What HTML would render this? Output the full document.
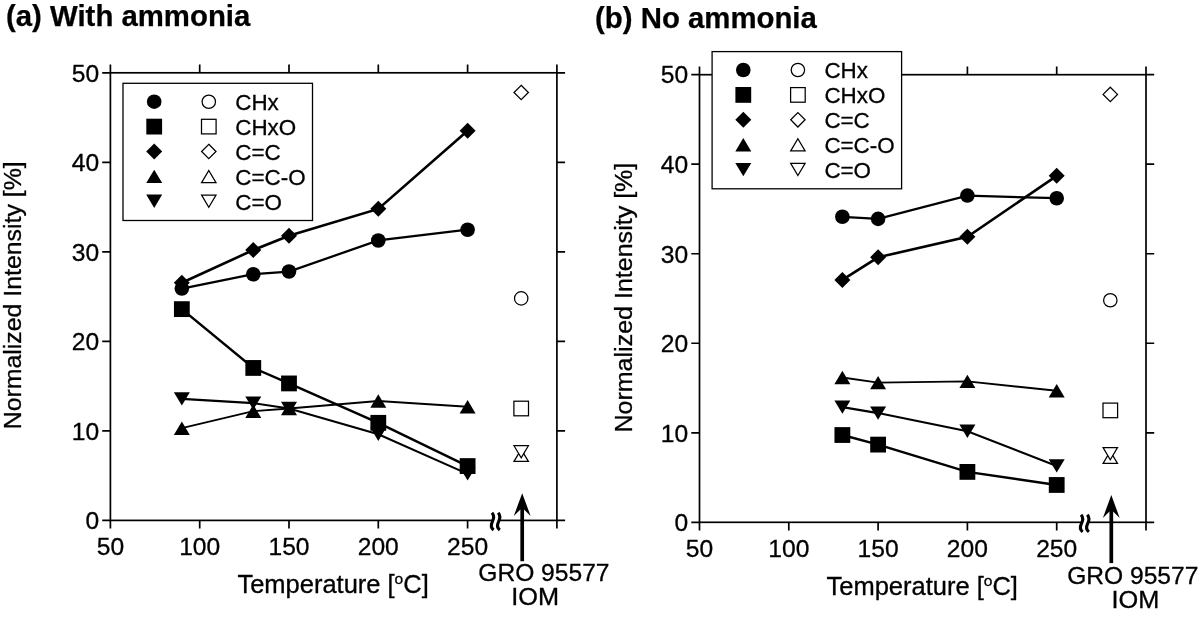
<!DOCTYPE html>
<html lang="en">
<head>
<meta charset="utf-8">
<title>Normalized intensity vs temperature</title>
<style>
html,body{margin:0;padding:0;background:#fff;}
body{width:1200px;height:617px;overflow:hidden;}
svg{display:block;}
.t{font-family:"Liberation Sans",Arial,Helvetica,sans-serif;font-size:24.6px;fill:#000;stroke:#000;stroke-width:0.3px;}
.a{font-size:24.6px;}
.l{font-size:22.8px;}
.h{font-family:"Liberation Sans",Arial,Helvetica,sans-serif;font-weight:bold;font-size:29.35px;fill:#000;stroke:#000;stroke-width:0.25px;}
</style>
</head>
<body>
<svg width="1200" height="617" viewBox="0 0 1200 617">
<rect width="1200" height="617" fill="#fff"/>
<text x="6" y="26.3" class="h">(a) With ammonia</text>
<text x="595.1" y="28.3" class="h">(b) No ammonia</text>
<g id="chart-a">
<rect x="110.40" y="72.80" width="446.50" height="447.60" fill="none" stroke="#000" stroke-width="1.7"/>
<path d="M110.40 72.80v-8.2M110.40 520.40v8.2M199.70 72.80v-8.2M199.70 520.40v8.2M289.00 72.80v-8.2M289.00 520.40v8.2M378.30 72.80v-8.2M378.30 520.40v8.2M467.60 72.80v-8.2M467.60 520.40v8.2M556.90 72.80v-8.2M556.90 520.40v8.2M110.40 520.40h-8.2M556.90 520.40h8.2M110.40 430.88h-8.2M556.90 430.88h8.2M110.40 341.36h-8.2M556.90 341.36h8.2M110.40 251.84h-8.2M556.90 251.84h8.2M110.40 162.32h-8.2M556.90 162.32h8.2M110.40 72.80h-8.2M556.90 72.80h8.2" fill="none" stroke="#000" stroke-width="1.7"/>
<text x="99.1" y="529.20" text-anchor="end" class="t">0</text>
<text x="99.1" y="439.68" text-anchor="end" class="t">10</text>
<text x="99.1" y="350.16" text-anchor="end" class="t">20</text>
<text x="99.1" y="260.64" text-anchor="end" class="t">30</text>
<text x="99.1" y="171.12" text-anchor="end" class="t">40</text>
<text x="99.1" y="81.60" text-anchor="end" class="t">50</text>
<text x="110.40" y="554.8" text-anchor="middle" class="t">50</text>
<text x="199.70" y="554.8" text-anchor="middle" class="t">100</text>
<text x="289.00" y="554.8" text-anchor="middle" class="t">150</text>
<text x="378.30" y="554.8" text-anchor="middle" class="t">200</text>
<text x="467.60" y="554.8" text-anchor="middle" class="t">250</text>
<text transform="translate(21.2 295.3) rotate(-90) scale(1.011 1)" text-anchor="middle" class="t a">Normalized Intensity [%]</text>
<text transform="translate(333.1 592.7) scale(1.026 1)" text-anchor="middle" class="t a" style="font-size:24.85px">Temperature [<tspan dy="-8.4" font-size="15.2">o</tspan><tspan dy="8.4">C]</tspan></text>
<rect x="492.20" y="518.40" width="6.4" height="4" fill="#fff"/>
<path d="M492.00 512.8C494.20 515.5 494.00 518.5 492.40 521.6S490.60 527.6 493.60 530" fill="none" stroke="#000" stroke-width="3.1"/>
<path d="M498.20 512.8C500.40 515.5 500.20 518.5 498.60 521.6S496.80 527.6 499.80 530" fill="none" stroke="#000" stroke-width="3.1"/>
<path d="M522.20 561.2V508" fill="none" stroke="#000" stroke-width="3.7"/>
<path d="M522.20 493.2L530.60 516L524.00 509.6H520.40L513.80 516Z" fill="#000"/>
<text x="543.9" y="581.4" text-anchor="middle" class="t a">GRO 95577</text>
<text transform="translate(535.15 604.5) scale(1.03 1)" text-anchor="middle" class="t a">IOM</text>
<path d="M521.20 85.29L528.40 92.49L521.20 99.69L514.00 92.49Z" fill="#fff" stroke="#000" stroke-width="1.25"/>
<circle cx="521.20" cy="298.39" r="6.70" fill="#fff" stroke="#000" stroke-width="1.25"/>
<rect x="513.90" y="401.20" width="14.60" height="14.60" fill="#fff" stroke="#000" stroke-width="1.25"/>
<path d="M521.20 449.33L528.40 461.43L514.00 461.43Z" fill="#fff" stroke="#000" stroke-width="1.25"/>
<path d="M521.20 457.82L528.40 445.72L514.00 445.72Z" fill="#fff" stroke="#000" stroke-width="1.25"/>
<polyline points="181.84,398.83 253.28,403.13 289.00,408.50 378.30,434.19 467.60,473.85" fill="none" stroke="#000" stroke-width="2.1"/>
<path d="M181.84 405.53L189.84 392.13L173.84 392.13Z" fill="#000"/>
<path d="M253.28 409.83L261.28 396.43L245.28 396.43Z" fill="#000"/>
<path d="M289.00 415.20L297.00 401.80L281.00 401.80Z" fill="#000"/>
<path d="M378.30 440.89L386.30 427.49L370.30 427.49Z" fill="#000"/>
<path d="M467.60 480.55L475.60 467.15L459.60 467.15Z" fill="#000"/>
<polyline points="181.84,428.19 253.28,411.19 289.00,408.50 378.30,400.98 467.60,406.71" fill="none" stroke="#000" stroke-width="1.9"/>
<path d="M181.84 421.49L189.84 434.89L173.84 434.89Z" fill="#000"/>
<path d="M253.28 404.49L261.28 417.89L245.28 417.89Z" fill="#000"/>
<path d="M289.00 401.80L297.00 415.20L281.00 415.20Z" fill="#000"/>
<path d="M378.30 394.28L386.30 407.68L370.30 407.68Z" fill="#000"/>
<path d="M467.60 400.01L475.60 413.41L459.60 413.41Z" fill="#000"/>
<polyline points="181.84,309.13 253.28,367.95 289.00,383.43 378.30,422.82 467.60,466.06" fill="none" stroke="#000" stroke-width="2.5"/>
<rect x="173.94" y="301.23" width="15.80" height="15.80" fill="#000"/>
<rect x="245.38" y="360.05" width="15.80" height="15.80" fill="#000"/>
<rect x="281.10" y="375.53" width="15.80" height="15.80" fill="#000"/>
<rect x="370.40" y="414.92" width="15.80" height="15.80" fill="#000"/>
<rect x="459.70" y="458.16" width="15.80" height="15.80" fill="#000"/>
<polyline points="181.84,288.54 253.28,274.22 289.00,271.53 378.30,240.47 467.60,229.73" fill="none" stroke="#000" stroke-width="2.25"/>
<circle cx="181.84" cy="288.54" r="7.30" fill="#000"/>
<circle cx="253.28" cy="274.22" r="7.30" fill="#000"/>
<circle cx="289.00" cy="271.53" r="7.30" fill="#000"/>
<circle cx="378.30" cy="240.47" r="7.30" fill="#000"/>
<circle cx="467.60" cy="229.73" r="7.30" fill="#000"/>
<polyline points="181.84,282.72 253.28,250.05 289.00,235.73 378.30,208.87 467.60,130.72" fill="none" stroke="#000" stroke-width="2.6"/>
<path d="M181.84 274.72L189.84 282.72L181.84 290.72L173.84 282.72Z" fill="#000"/>
<path d="M253.28 242.05L261.28 250.05L253.28 258.05L245.28 250.05Z" fill="#000"/>
<path d="M289.00 227.73L297.00 235.73L289.00 243.73L281.00 235.73Z" fill="#000"/>
<path d="M378.30 200.87L386.30 208.87L378.30 216.87L370.30 208.87Z" fill="#000"/>
<path d="M467.60 122.72L475.60 130.72L467.60 138.72L459.60 130.72Z" fill="#000"/>
<rect x="123.00" y="83.30" width="189.5" height="137.2" fill="#fff" stroke="#000" stroke-width="1.3"/>
<circle cx="154.20" cy="101.70" r="7.30" fill="#000"/>
<circle cx="208.80" cy="101.70" r="6.70" fill="#fff" stroke="#000" stroke-width="1.25"/>
<text transform="translate(235.30 110.10) scale(0.982 1)" class="t l">CHx</text>
<rect x="146.30" y="118.70" width="15.80" height="15.80" fill="#000"/>
<rect x="201.50" y="119.30" width="14.60" height="14.60" fill="#fff" stroke="#000" stroke-width="1.25"/>
<text transform="translate(235.30 135.00) scale(0.982 1)" class="t l">CHxO</text>
<path d="M154.20 143.50L162.20 151.50L154.20 159.50L146.20 151.50Z" fill="#000"/>
<path d="M208.80 144.30L216.00 151.50L208.80 158.70L201.60 151.50Z" fill="#fff" stroke="#000" stroke-width="1.25"/>
<text transform="translate(235.30 159.90) scale(0.982 1)" class="t l">C=C</text>
<path d="M154.20 169.70L162.20 183.10L146.20 183.10Z" fill="#000"/>
<path d="M208.80 170.50L216.00 182.60L201.60 182.60Z" fill="#fff" stroke="#000" stroke-width="1.25"/>
<text transform="translate(235.30 184.80) scale(0.982 1)" class="t l">C=C-O</text>
<path d="M154.20 208.00L162.20 194.60L146.20 194.60Z" fill="#000"/>
<path d="M208.80 207.20L216.00 195.10L201.60 195.10Z" fill="#fff" stroke="#000" stroke-width="1.25"/>
<text transform="translate(235.30 209.70) scale(0.982 1)" class="t l">C=O</text>
</g>
<g id="chart-b" transform="translate(589.1 1.9)">
<rect x="110.40" y="72.80" width="446.50" height="447.60" fill="none" stroke="#000" stroke-width="1.7"/>
<path d="M110.40 72.80v-8.2M110.40 520.40v8.2M199.70 72.80v-8.2M199.70 520.40v8.2M289.00 72.80v-8.2M289.00 520.40v8.2M378.30 72.80v-8.2M378.30 520.40v8.2M467.60 72.80v-8.2M467.60 520.40v8.2M556.90 72.80v-8.2M556.90 520.40v8.2M110.40 520.40h-8.2M556.90 520.40h8.2M110.40 430.88h-8.2M556.90 430.88h8.2M110.40 341.36h-8.2M556.90 341.36h8.2M110.40 251.84h-8.2M556.90 251.84h8.2M110.40 162.32h-8.2M556.90 162.32h8.2M110.40 72.80h-8.2M556.90 72.80h8.2" fill="none" stroke="#000" stroke-width="1.7"/>
<text x="99.1" y="529.20" text-anchor="end" class="t">0</text>
<text x="99.1" y="439.68" text-anchor="end" class="t">10</text>
<text x="99.1" y="350.16" text-anchor="end" class="t">20</text>
<text x="99.1" y="260.64" text-anchor="end" class="t">30</text>
<text x="99.1" y="171.12" text-anchor="end" class="t">40</text>
<text x="99.1" y="81.60" text-anchor="end" class="t">50</text>
<text x="110.40" y="554.8" text-anchor="middle" class="t">50</text>
<text x="199.70" y="554.8" text-anchor="middle" class="t">100</text>
<text x="289.00" y="554.8" text-anchor="middle" class="t">150</text>
<text x="378.30" y="554.8" text-anchor="middle" class="t">200</text>
<text x="467.60" y="554.8" text-anchor="middle" class="t">250</text>
<text transform="translate(42.9 295.75) rotate(-90) scale(1.018 1)" text-anchor="middle" class="t a">Normalized Intensity [%]</text>
<text transform="translate(333.1 592.7) scale(1.026 1)" text-anchor="middle" class="t a" style="font-size:24.85px">Temperature [<tspan dy="-8.4" font-size="15.2">o</tspan><tspan dy="8.4">C]</tspan></text>
<rect x="492.20" y="518.40" width="6.4" height="4" fill="#fff"/>
<path d="M492.00 512.8C494.20 515.5 494.00 518.5 492.40 521.6S490.60 527.6 493.60 530" fill="none" stroke="#000" stroke-width="3.1"/>
<path d="M498.20 512.8C500.40 515.5 500.20 518.5 498.60 521.6S496.80 527.6 499.80 530" fill="none" stroke="#000" stroke-width="3.1"/>
<path d="M522.20 561.2V508" fill="none" stroke="#000" stroke-width="3.7"/>
<path d="M522.20 493.2L530.60 516L524.00 509.6H520.40L513.80 516Z" fill="#000"/>
<text x="543.7" y="581.7" text-anchor="middle" class="t a">GRO 95577</text>
<text transform="translate(546.3 606.2) scale(1.03 1)" text-anchor="middle" class="t a">IOM</text>
<path d="M521.20 85.29L528.40 92.49L521.20 99.69L514.00 92.49Z" fill="#fff" stroke="#000" stroke-width="1.25"/>
<circle cx="521.20" cy="298.39" r="6.70" fill="#fff" stroke="#000" stroke-width="1.25"/>
<rect x="513.90" y="401.20" width="14.60" height="14.60" fill="#fff" stroke="#000" stroke-width="1.25"/>
<path d="M521.20 449.33L528.40 461.43L514.00 461.43Z" fill="#fff" stroke="#000" stroke-width="1.25"/>
<path d="M521.20 457.82L528.40 445.72L514.00 445.72Z" fill="#fff" stroke="#000" stroke-width="1.25"/>
<polyline points="253.28,405.19 289.00,411.19 378.30,429.36 467.60,464.00" fill="none" stroke="#000" stroke-width="2.1"/>
<path d="M253.28 411.89L261.28 398.49L245.28 398.49Z" fill="#000"/>
<path d="M289.00 417.89L297.00 404.49L281.00 404.49Z" fill="#000"/>
<path d="M378.30 436.06L386.30 422.66L370.30 422.66Z" fill="#000"/>
<path d="M467.60 470.70L475.60 457.30L459.60 457.30Z" fill="#000"/>
<polyline points="253.28,375.56 289.00,380.75 378.30,379.50 467.60,388.81" fill="none" stroke="#000" stroke-width="1.9"/>
<path d="M253.28 368.86L261.28 382.26L245.28 382.26Z" fill="#000"/>
<path d="M289.00 374.05L297.00 387.45L281.00 387.45Z" fill="#000"/>
<path d="M378.30 372.80L386.30 386.20L370.30 386.20Z" fill="#000"/>
<path d="M467.60 382.11L475.60 395.51L459.60 395.51Z" fill="#000"/>
<polyline points="253.28,433.12 289.00,442.70 378.30,470.00 467.60,483.07" fill="none" stroke="#000" stroke-width="2.5"/>
<rect x="245.38" y="425.22" width="15.80" height="15.80" fill="#000"/>
<rect x="281.10" y="434.80" width="15.80" height="15.80" fill="#000"/>
<rect x="370.40" y="462.10" width="15.80" height="15.80" fill="#000"/>
<rect x="459.70" y="475.17" width="15.80" height="15.80" fill="#000"/>
<polyline points="253.28,214.87 289.00,216.93 378.30,193.65 467.60,196.34" fill="none" stroke="#000" stroke-width="2.25"/>
<circle cx="253.28" cy="214.87" r="7.30" fill="#000"/>
<circle cx="289.00" cy="216.93" r="7.30" fill="#000"/>
<circle cx="378.30" cy="193.65" r="7.30" fill="#000"/>
<circle cx="467.60" cy="196.34" r="7.30" fill="#000"/>
<polyline points="253.28,278.07 289.00,255.42 378.30,234.83 467.60,173.96" fill="none" stroke="#000" stroke-width="2.6"/>
<path d="M253.28 270.07L261.28 278.07L253.28 286.07L245.28 278.07Z" fill="#000"/>
<path d="M289.00 247.42L297.00 255.42L289.00 263.42L281.00 255.42Z" fill="#000"/>
<path d="M378.30 226.83L386.30 234.83L378.30 242.83L370.30 234.83Z" fill="#000"/>
<path d="M467.60 165.96L475.60 173.96L467.60 181.96L459.60 173.96Z" fill="#000"/>
<rect x="123.00" y="49.70" width="189.5" height="137.2" fill="#fff" stroke="#000" stroke-width="1.3"/>
<circle cx="154.20" cy="68.10" r="7.30" fill="#000"/>
<circle cx="208.80" cy="68.10" r="6.70" fill="#fff" stroke="#000" stroke-width="1.25"/>
<text transform="translate(235.30 76.50) scale(0.982 1)" class="t l">CHx</text>
<rect x="146.30" y="85.10" width="15.80" height="15.80" fill="#000"/>
<rect x="201.50" y="85.70" width="14.60" height="14.60" fill="#fff" stroke="#000" stroke-width="1.25"/>
<text transform="translate(235.30 101.40) scale(0.982 1)" class="t l">CHxO</text>
<path d="M154.20 109.90L162.20 117.90L154.20 125.90L146.20 117.90Z" fill="#000"/>
<path d="M208.80 110.70L216.00 117.90L208.80 125.10L201.60 117.90Z" fill="#fff" stroke="#000" stroke-width="1.25"/>
<text transform="translate(235.30 126.30) scale(0.982 1)" class="t l">C=C</text>
<path d="M154.20 136.10L162.20 149.50L146.20 149.50Z" fill="#000"/>
<path d="M208.80 136.90L216.00 149.00L201.60 149.00Z" fill="#fff" stroke="#000" stroke-width="1.25"/>
<text transform="translate(235.30 151.20) scale(0.982 1)" class="t l">C=C-O</text>
<path d="M154.20 174.40L162.20 161.00L146.20 161.00Z" fill="#000"/>
<path d="M208.80 173.60L216.00 161.50L201.60 161.50Z" fill="#fff" stroke="#000" stroke-width="1.25"/>
<text transform="translate(235.30 176.10) scale(0.982 1)" class="t l">C=O</text>
</g>
</svg>
</body>
</html>
